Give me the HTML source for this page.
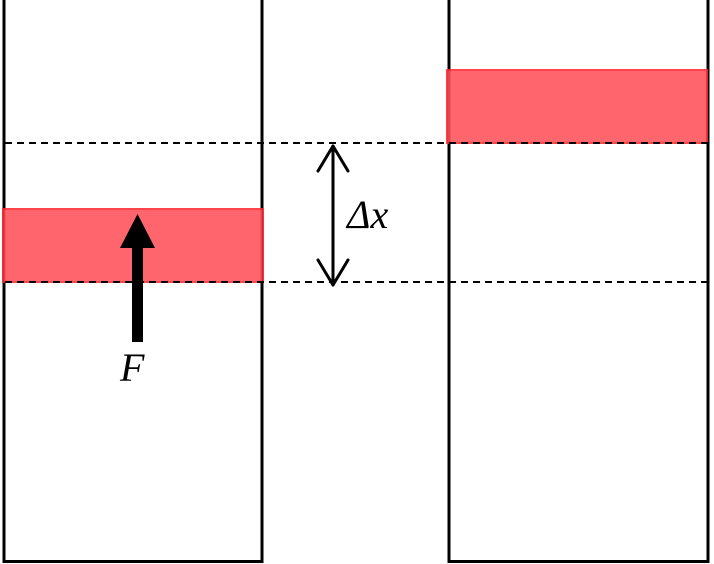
<!DOCTYPE html>
<html><head><style>body{margin:0;background:#fff}svg{display:block}</style></head><body>
<svg width="714" height="564" viewBox="0 0 714 564" xmlns="http://www.w3.org/2000/svg">
<g stroke="#000" stroke-width="3" fill="none">
<polyline points="4,0 4,561.5 262,561.5 262,0"/>
<polyline points="449,0 449,561.5 708,561.5 708,0"/>
</g>
<rect x="3" y="209" width="260" height="73" fill="#ff5058" stroke="#ff2a34" stroke-width="2" opacity="0.88"/>
<rect x="447" y="70" width="260" height="73" fill="#ff5058" stroke="#ff2a34" stroke-width="2" opacity="0.88"/>
<g stroke="#000" stroke-width="2" stroke-dasharray="7,5">
<line x1="5" y1="143" x2="709" y2="143"/>
<line x1="5" y1="282" x2="709" y2="282"/>
</g>
<rect x="132" y="246" width="11" height="96" fill="#000"/>
<polygon points="120,248 155,248 137.5,214" fill="#000"/>
<g stroke="#000" stroke-width="3" fill="none" stroke-linecap="round" stroke-linejoin="round">
<line x1="333" y1="146" x2="333" y2="285"/>
<polyline points="318,171 333,146 348,171"/>
<polyline points="318,260 333,285 348,260"/>
</g>
<text x="120" y="381" font-family="Liberation Serif, serif" font-style="italic" font-size="40">F</text>
<text x="347" y="228" font-family="Liberation Serif, DejaVu Serif, serif" font-style="italic" font-size="40">Δx</text>
</svg>
</body></html>
